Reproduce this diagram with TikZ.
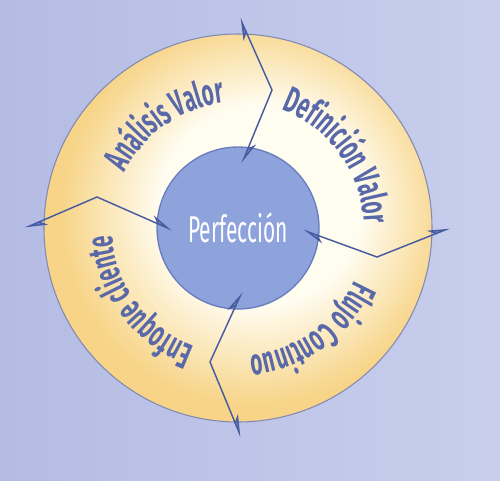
\documentclass[tikz,border=0pt]{standalone}
\usepackage{fontspec}
\usepackage{tikz}
\usetikzlibrary{arrows.meta,decorations.text}
\usepackage{xcolor}
\newfontfamily\ringfont[FakeStretch=0.56]{Fira Sans}
\newcommand\ringtxt{\ringfont\bfseries\fontsize{27.5}{30}\selectfont}
\definecolor{bgdark}{RGB}{180,188,228}
\definecolor{bglight}{RGB}{200,206,236}
\definecolor{ringorange}{RGB}{247,212,135}
\definecolor{ringwhite}{RGB}{255,252,240}
\definecolor{perfblue}{RGB}{142,162,220}
\definecolor{perfedge}{RGB}{105,124,190}
\definecolor{ringedge}{RGB}{130,138,180}
\definecolor{ringtext}{RGB}{88,104,168}
\definecolor{linkblue}{RGB}{72,92,160}
\definecolor{tipblue}{RGB}{110,136,210}
\pgfdeclareradialshading{ringshade}{\pgfpoint{4bp}{4bp}}{color(0bp)=(ringwhite); color(13bp)=(ringwhite); color(25bp)=(ringorange); color(50bp)=(ringorange)}

\begin{document}
\begin{tikzpicture}[x=0.75pt,y=0.75pt,yscale=-1,xscale=1,
  >={Stealth[harpoon,length=15pt,width=9pt,fill=tipblue]},
  link/.style={draw=linkblue, line width=1.1pt, <->},
  perf/.style={circle, fill=perfblue, draw=perfedge, line width=1pt, minimum size=121.5pt, inner sep=0pt, text=white, font=\ringfont\fontsize{28}{30}\selectfont},
  ringlabel/.style={decorate, decoration={text along path, text align=center, text color=ringtext, text={|\ringtxt|#1}}}]
%set diagram left start at 0, and has height of 480
\shade[left color=bgdark, right color=bglight] (0,0) rectangle (500,480);
\useasboundingbox (0,0) rectangle (500,480);
%Shape: Circle (ring)
\shade[shading=ringshade] (238,228) circle [radius=194];
\draw[draw=ringedge, line width=0.8pt] (238,228) circle [radius=194];
%Shape: Circle (centre)
\node[perf] (perf) at (238,228) {Perfección};

%Straight Lines
\coordinate (outT) at (240,18);
\coordinate (kinkT) at (272,90);
\coordinate (tipT) at (242,163);
\coordinate (outR) at (450,228);
\coordinate (kinkR) at (377,257);
\coordinate (tipR) at (303,230);
\coordinate (outB) at (241,437);
\coordinate (kinkB) at (210,362);
\coordinate (tipB) at (242,292);
\coordinate (outL) at (25,228);
\coordinate (kinkL) at (97,197);
\coordinate (tipL) at (172,230);
\draw[link] (outT) -- (kinkT) -- (tipT);
\draw[link] (outR) -- (kinkR) -- (tipR);
\draw[link] (outB) -- (kinkB) -- (tipB);
\draw[link] (outL) -- (kinkL) -- (tipL);

% Text Node (along the ring)
\begin{scope}[shift={(238,228)},yscale=-1]
\path[ringlabel={Análisis Valor}] (160:126) arc[start angle=160, end angle=90, radius=126];
\path[ringlabel={Definición Valor}] (75:126) arc[start angle=75, end angle=-3, radius=126];
\path[ringlabel={Flujo Continuo}] (-15:128) arc[start angle=-15, end angle=-94, radius=128];
\path[ringlabel={Enfoque cliente}] (-108:126) arc[start angle=-108, end angle=-179, radius=126];
\end{scope}
\end{tikzpicture}
\end{document}
